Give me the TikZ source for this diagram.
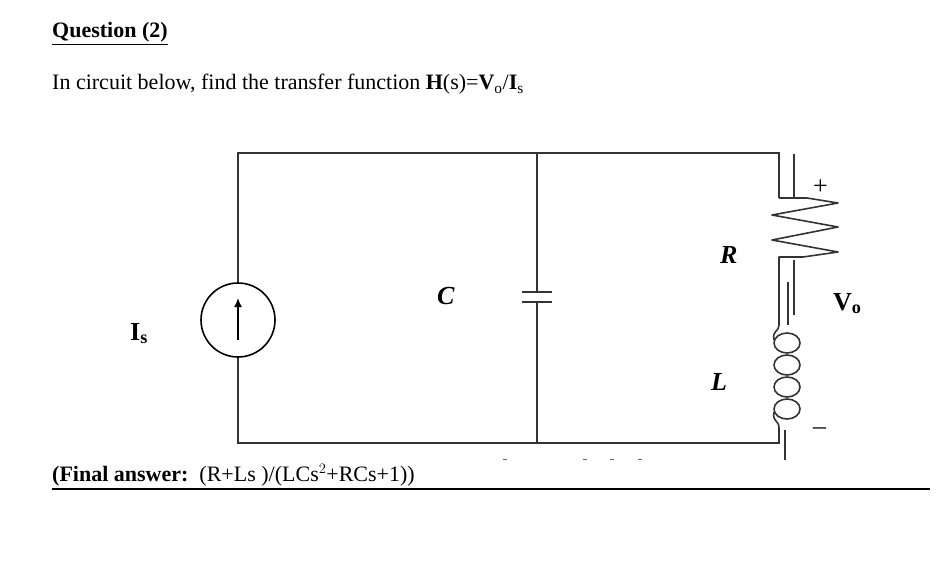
\documentclass[tikz,border=0pt]{standalone}
\usepackage{fontspec}
\setmainfont{Liberation Serif}
\usetikzlibrary{arrows.meta}
\begin{document}
\begin{tikzpicture}[x=1pt,y=-1pt,wire/.style={line width=1.6pt,black!80},
 txt/.style={inner sep=0pt,anchor=base west,font=\fontsize{22}{26}\selectfont},
 lbl/.style={inner sep=0pt,anchor=base west,font=\fontsize{26}{30}\selectfont}]
\useasboundingbox (0,0) rectangle (936,580);
\node[txt] (q) at (52,38) {\textbf{\underline{Question (2)}}};
\node[txt] (t) at (52,90) {In circuit below, find the transfer function \textbf{H}(s)=\textbf{V}$_{\mathrm{o}}$/\textbf{I}$_{\mathrm{s}}$};
\node[txt] (f) at (52,481) {\textbf{(Final answer:}\ \ (R+Ls )/(LCs$^2$+RCs+1))};
\draw[line width=1.2pt] (52,489) -- (930,489);
% wires
\draw[wire] (238,282) -- (238,153) -- (779,153) -- (779,198);
\draw[wire] (238,357) -- (238,443) -- (779,443) -- (779,428);
\draw[wire] (537,153) -- (537,292);
\draw[wire] (537,302) -- (537,443);
\draw[wire] (522,292) -- (552,292);
\draw[wire] (522,302) -- (552,302);
% current source
\node[draw,circle,line width=1.6pt,minimum size=74pt,inner sep=0pt] (src) at (238,320) {};
\draw[line width=1.6pt,-{Latex[length=9pt,width=8pt]}] (238,340) -- (238,298);
% resistor
\draw[wire,line join=round] (779,198) -- (807,198) -- (838,203) -- (772,215) -- (838,227) -- (772,240) -- (838,252) -- (803,257) -- (779,257) -- (779,325);
\draw[wire] (794,154) -- (794,197);
\draw[wire] (794,260) -- (794,315);
\draw[wire] (788,282) -- (788,325);
% inductor
\draw[wire] (779,325) .. controls (779,332) and (772,330) .. (774,340);
\foreach \k in {0,1,2,3} \draw[wire] (787,343+\k*22) ellipse[x radius=13, y radius=10];
\draw[wire] (774,412) .. controls (772,422) and (779,420) .. (779,428);
\draw[wire] (785,430) -- (785,460);
% stray marks
\foreach \xx in {505,585,612,640} \draw[line width=1pt,black!60] (\xx-2,459) -- (\xx+2,459);
% labels
\node[lbl] (C) at (437,304) {\textbf{\textit{C}}};
\node[lbl] (R) at (720,263) {\textbf{\textit{R}}};
\node[lbl] (L) at (711,390) {\textbf{\textit{L}}};
\node[lbl] (Vo) at (833,310) {\textbf{V}$_{\mathbf{o}}$};
\node[lbl] (Is) at (130,340) {\textbf{I}$_{\mathbf{s}}$};
\node[lbl] (plus) at (813,194) {+};
\node[lbl] (minus) at (813,434) {--};
\end{tikzpicture}
\end{document}
